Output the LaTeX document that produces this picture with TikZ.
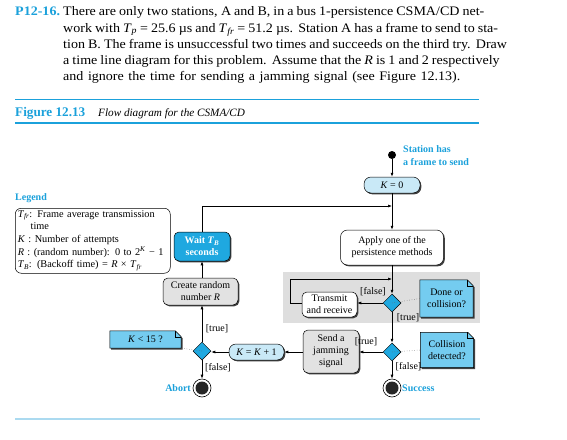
\documentclass[tikz,border=0pt]{standalone}
\usepackage{fontspec}
\setmainfont{Liberation Serif}
\newfontfamily\widefont[FakeStretch=1.08,WordSpace=1.3]{Liberation Serif}
\usetikzlibrary{arrows.meta,shapes.geometric,shadows,backgrounds,calc}
\definecolor{tblue}{HTML}{1BA1DB}
\definecolor{dblue}{HTML}{1FA8E0}
\definecolor{nblue}{HTML}{74CCF0}
\definecolor{pblue}{HTML}{C9E9F7}
\definecolor{gbox}{HTML}{E2E2E2}
\definecolor{greg}{HTML}{DEDEDE}
\definecolor{lline}{HTML}{ABDAF0}
\newcommand\Tsb[1]{\textit{T}\textsubscript{\textit{#1}}}
\newcommand\dogear[1]{%
  \fill[black!75] ([shift={(1.3pt,-1.3pt)}]#1.south west) -- ([shift={(1.3pt,-1.3pt)}]#1.north west) -- ([shift={(-4.7pt,-1.3pt)}]#1.north east) -- ([shift={(1.3pt,-7.3pt)}]#1.north east) -- ([shift={(1.3pt,-1.3pt)}]#1.south east) -- cycle;
  \filldraw[fill=nblue, draw=black, line width=.5pt] (#1.south west) -- (#1.north west) -- ([xshift=-6pt]#1.north east) -- ([yshift=-6pt]#1.north east) -- (#1.south east) -- cycle;
  \draw[line width=.5pt] ([xshift=-6pt]#1.north east) -- ([xshift=-6pt,yshift=-6pt]#1.north east) -- ([yshift=-6pt]#1.north east);}
\begin{document}
\begin{tikzpicture}[x=1pt,y=-1pt, font=\fontsize{10}{12}\selectfont,
  >={Latex[length=4pt,width=3pt]},
  shad/.style={drop shadow={shadow xshift=1.3pt,shadow yshift=-1.3pt,fill=black!75,opacity=1}},
  box/.style={draw, rounded corners=5pt, align=center, inner sep=1pt, line width=0.5pt, shad},
  pill/.style={box, rounded corners=7pt, fill=pblue, minimum height=16pt},
  dia/.style={diamond, draw, fill=dblue, line width=0.5pt, minimum width=18pt, minimum height=18pt, inner sep=0pt},
  notebox/.style={align=center, inner sep=1pt},
  endpt/.style={circle, draw, line width=0.6pt, fill=white, minimum size=18pt, inner sep=0pt},
  lbl/.style={inner sep=0pt},
  bluetxt/.style={text=tblue, font=\fontsize{10}{13}\selectfont\bfseries},
  conn/.style={->, line width=0.6pt},
  ptext/.style={anchor=base west, inner sep=0pt, font=\widefont\fontsize{13}{16}\selectfont}]
\useasboundingbox (0,0) rectangle (567,439);
\begin{scope}[on background layer]
\fill[white] (0,0) rectangle (567,439);
\fill[greg] (283,272) rectangle (480,323);
\end{scope}

% problem text
\node[ptext, text=tblue, font=\widefont\fontsize{13}{16}\selectfont\bfseries] (pnum) at (15,16) {P12-16.};
\node[ptext] (l1) at (63,16) {\makebox[415pt][s]{There are only two stations, A and B, in a bus 1-persistence CSMA/CD net-}};
\node[ptext] (l2) at (63,32) {\makebox[415pt][s]{work with \Tsb{p} = 25.6 µs and \Tsb{fr} = 51.2 µs. Station A has a frame to send to sta-}};
\node[ptext] (l3) at (63,48) {\makebox[415pt][s]{tion B. The frame is unsuccessful two times and succeeds on the third try. Draw}};
\node[ptext] (l4) at (63,64) {\makebox[415pt][s]{a time line diagram for this problem. Assume that the \textit{R} is 1 and 2 respectively}};
\node[ptext] (l5) at (63,80) {and ignore the time for sending a jamming signal (see Figure 12.13).};

\draw[tblue, line width=0.8pt] (15,99) -- (479,99);
\node[ptext, text=tblue, font=\fontsize{13.2}{15}\selectfont\bfseries] (fig) at (15,116) {Figure 12.13};
\node[ptext, font=\fontsize{11.2}{13}\selectfont\itshape] (cap) at (98,116) {Flow diagram for the CSMA/CD};
\draw[tblue, line width=2.5pt] (15,123) -- (479,123);
\draw[lline, line width=2pt] (15,419) -- (480,419);

% legend
\node[bluetxt, anchor=west, inner sep=0pt] (legt) at (15,198) {Legend};
\node[draw, rounded corners=6pt, line width=0.5pt, anchor=north west, minimum width=155pt, minimum height=65pt, align=left, inner sep=2pt, font=\fontsize{10.3}{12.7}\selectfont, text width=150pt] (legend) at (15,208)
{\Tsb{fr}: Frame average transmission\\ \hspace*{13pt}time\\ \textit{K} : Number of attempts\\ \textit{R} : (random number): 0 to 2\textsuperscript{\textit{K}} − 1\\ \Tsb{B}: (Backoff time) = \textit{R} × \Tsb{fr}};

% flow
\node[circle, fill=black, minimum size=8pt, inner sep=0pt] (start) at (392,155) {};
\node[bluetxt, align=left, anchor=west, inner sep=0pt] (stlab) at (403,155.5) {Station has\\a frame to send};
\node[pill, minimum width=56pt] (k0) at (392,185) {\textit{K} = 0};
\node[box, fill=white, minimum width=103pt, minimum height=35pt, rounded corners=7pt] (apply) at (392,247.5) {Apply one of the\\persistence methods};
\node[dia] (d1) at (392,303) {};
\node[box, fill=white, minimum width=55pt, minimum height=25pt] (trans) at (329.5,304.5) {Transmit\\and receive};
\node[notebox, minimum width=53pt, minimum height=37pt] (n1) at (446.5,298.5) {Done or\\collision?};
\node[dia] (d2) at (392,352) {};
\node[notebox, minimum width=53pt, minimum height=35pt] (n2) at (447,350) {Collision\\detected?};
\node[box, fill=gbox, minimum width=56pt, minimum height=43pt] (jam) at (331,351.5) {Send a\\jamming\\signal};
\node[endpt] (succ) at (392,388) {};
\fill[black!85] (succ.center) circle (6.5pt);
\node[bluetxt, anchor=west, inner sep=0pt] (succl) at (402,388) {Success};
\node[pill, minimum width=55pt] (kk) at (256.5,352) {\textit{K} = \textit{K} + 1};
\node[dia] (d3) at (202,351) {};
\node[notebox, minimum width=71pt, minimum height=17pt] (n3) at (145.5,339.5) {\textit{K} < 15 ?};
\node[endpt] (abort) at (202,388) {};
\fill[black!85] (abort.center) circle (6.5pt);
\node[bluetxt, anchor=east, inner sep=0pt] (abl) at (191,388) {Abort};
\node[box, fill=gbox, minimum width=75pt, minimum height=27pt] (create) at (200.5,291.5) {Create random\\number \textit{R}};
\node[box, fill=dblue, text=white, font=\fontsize{10}{12}\selectfont\bfseries, minimum width=56pt, minimum height=29pt] (wait) at (202,246.5) {Wait \Tsb{B}\\seconds};

\begin{scope}[on background layer]
\dogear{n1}
\dogear{n2}
\dogear{n3}
\end{scope}

\coordinate (j1) at (392,279);
\coordinate (j2) at (392,206);
\draw[conn] (start) -- (k0);
\draw[conn] (k0) -- (apply);
\draw[conn] (apply) -- (d1);
\draw[conn] (d1.west) -- (d1.west -| trans.east);
\draw[conn] (trans.west |- d1.west) -- ++(-11,0) |- (j1);
\draw[conn] (d1) -- (d2);
\draw[conn] (d2.west) -- (d2.west -| jam.east);
\draw[conn] (d2) -- (succ);
\draw[conn] (jam.west |- kk.east) -- (kk.east);
\draw[conn] (kk.west) -- (kk.west -| d3.east);
\draw[conn] (d3) -- (d3 |- create.south);
\draw[conn] (d3) -- (abort);
\draw[conn] (wait |- create.north) -- (wait.south);
\draw[conn] (wait.north) |- (j2);

\draw[dotted, black!60, line width=0.5pt] (d1.center) -- (n1.west);
\draw[dotted, black!60, line width=0.5pt] (d2.center) -- (n2.west);
\draw[dotted, black!60, line width=0.5pt] (d3.center) -- (n3.south east);

\node[lbl] (f1) at (373,292) {[false]};
\node[lbl] (t1) at (408,318) {[true]};
\node[lbl] (t2) at (366,342) {[true]};
\node[lbl] (f2) at (408.5,366.5) {[false]};
\node[lbl] (t3) at (217,329) {[true]};
\node[lbl] (f3) at (218,368) {[false]};
\end{tikzpicture}
\end{document}
